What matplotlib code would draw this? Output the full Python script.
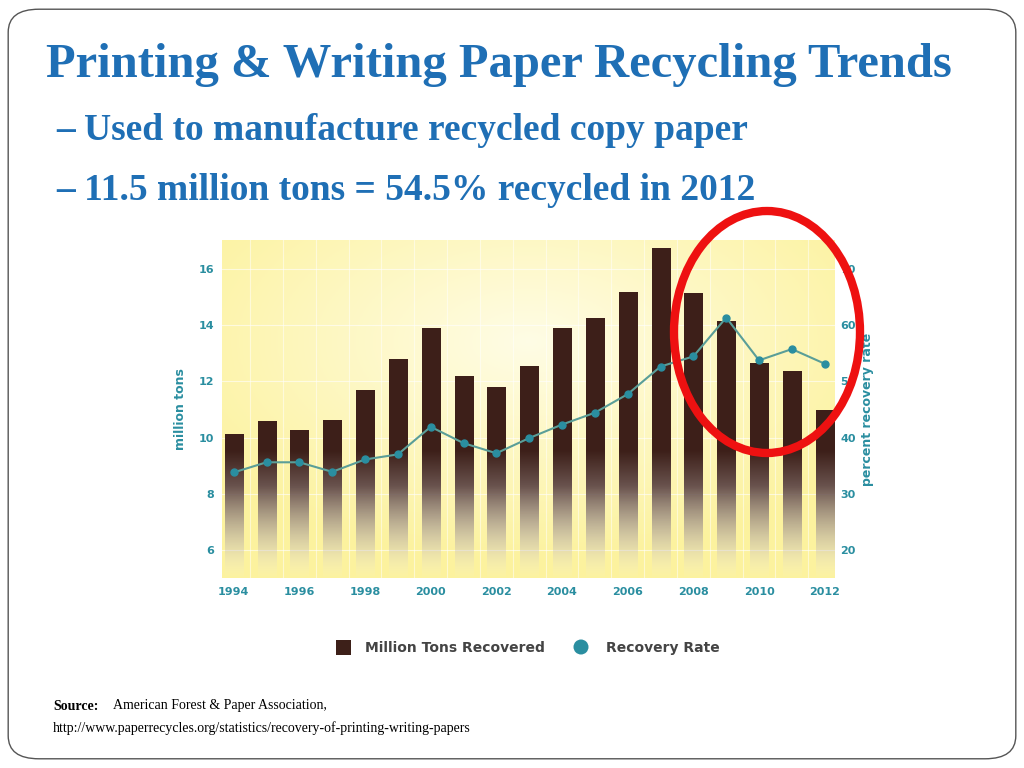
import matplotlib
matplotlib.use("Agg")
import matplotlib.pyplot as plt
import numpy as np
from matplotlib.patches import FancyBboxPatch, Ellipse, Rectangle

years = list(range(1994, 2013))
tons = [10.1, 10.55, 10.25, 10.6, 11.65, 12.75, 13.85, 12.15, 11.75, 12.5,
        13.85, 14.2, 15.15, 16.7, 15.1, 14.1, 12.6, 12.35, 10.95]
rate = [33.8, 35.6, 35.6, 33.9, 36.1, 37.0, 41.9, 39.0, 37.2, 39.9,
        42.3, 44.4, 47.7, 52.6, 54.4, 61.3, 53.7, 55.7, 53.1]
left_ticks = [6, 8, 10, 12, 14, 16]
right_ticks = [20, 30, 40, 50, 60, 70]
xtick_years = list(range(1994, 2013, 2))

blue = "#1f6fb5"
teal = "#2a8ea0"
brown = "#3d2019"

fig = plt.figure(figsize=(10.24, 7.68), dpi=100)
fig.patches.append(FancyBboxPatch((0.008, 0.012), 0.984, 0.976, boxstyle="round,pad=0,rounding_size=0.03",
                                  transform=fig.transFigure, fill=False, ec="#555555", lw=1))
serif = "Liberation Serif"
fig.text(0.045, 0.915, "Printing & Writing Paper Recycling Trends", fontsize=35, color=blue,
         family=serif, weight="bold", va="center")
fig.text(0.055, 0.83, "\u2013 Used to manufacture recycled copy paper", fontsize=27, color=blue,
         family=serif, weight="bold", va="center")
fig.text(0.055, 0.752, "\u2013 11.5 million tons = 54.5% recycled in 2012", fontsize=27, color=blue,
         family=serif, weight="bold", va="center")

ax = fig.add_axes([0.217, 0.247, 0.598, 0.44])
ax.set_xlim(1994 - 0.35, 2012 + 0.3)
ax.set_ylim(5, 17)
gx, gy = np.meshgrid(np.linspace(-1, 1, 200), np.linspace(-1, 1, 200))
r = np.clip(np.sqrt(gx**2 + (gy - 0.4)**2) / 1.3, 0, 1)
c0 = np.array([1.0, 0.99, 0.90]); c1 = np.array([0.99, 0.95, 0.62])
img = c0 + (c1 - c0) * r[..., None]
ax.imshow(img, extent=[1993.65, 2012.3, 5, 17], aspect="auto", origin="lower", zorder=0)
for yv in [6, 8, 10, 12, 14, 16]:
    ax.axhline(yv, color="white", lw=0.8, alpha=0.6, zorder=0.5)
for yr in years:
    ax.axvline(yr + 0.5, color="white", lw=0.8, alpha=0.5, zorder=0.5)

w = 0.55
for yr, t in zip(years, tons):
    frac = np.clip((np.linspace(5, t, 256) - 5) / 4.5, 0, 1) ** 0.8
    frac = frac[:, None, None]
    col = np.ones((256, 1, 3)) * (1 - frac) + np.array([0.24, 0.125, 0.10]) * frac
    rgba = np.concatenate([col, np.clip(frac * 1.3, 0, 1)], axis=2)
    ax.imshow(rgba, extent=[yr - w / 2, yr + w / 2, 5, t], aspect="auto", origin="lower", zorder=2)
ax.bar(years, tons, width=w, color="none", zorder=1)

ax2 = ax.twinx()
ax2.set_ylim(15, 75)
ax2.plot(years, rate, color="#5a9e98", lw=1.5, marker="o", ms=5, mfc=teal, mec=teal, zorder=3)

for a in (ax, ax2):
    for s in a.spines.values():
        s.set_visible(False)
ax.set_yticks(left_ticks)
ax.set_xticks(xtick_years)
ax2.set_yticks(right_ticks)
ax.tick_params(length=0, labelsize=8, labelcolor=teal, pad=6)
ax2.tick_params(length=0, labelsize=8, labelcolor=teal, pad=4)
for lbl in ax.get_xticklabels() + ax.get_yticklabels() + ax2.get_yticklabels():
    lbl.set_fontweight("bold")
ax.set_ylabel("million tons", color=teal, fontsize=9, weight="bold", labelpad=8)
ax2.set_ylabel("percent recovery rate", color=teal, fontsize=9, weight="bold", labelpad=4)
ax.set_xlim(1994 - 0.35, 2012 + 0.3)

fig.patches.append(Ellipse((767 / 1024, 1 - 332 / 768), 186 / 1024, 242 / 768, transform=fig.transFigure,
                           fill=False, ec="#ee1111", lw=6, zorder=10))

fig.patches.append(Rectangle((336 / 1024, 1 - 655 / 768), 15 / 1024, 15 / 768, transform=fig.transFigure,
                             fc=brown, ec="none"))
fig.text(365 / 1024, 1 - 648 / 768, "Million Tons Recovered", fontsize=10, weight="bold", color="#444444", va="center")
fig.patches.append(Ellipse((581 / 1024, 1 - 647 / 768), 15 / 1024, 15 / 768, transform=fig.transFigure,
                           fc=teal, ec="none"))
fig.text(606 / 1024, 1 - 648 / 768, "Recovery Rate", fontsize=10, weight="bold", color="#444444", va="center")

fig.text(53 / 1024, 1 - 706 / 768, "Source:", fontsize=10, weight="bold", family=serif, va="center")
fig.text(113 / 1024, 1 - 706 / 768, "American Forest & Paper Association,", fontsize=10, family=serif, va="center")
fig.text(53 / 1024, 1 - 728 / 768, "http://www.paperrecycles.org/statistics/recovery-of-printing-writing-papers",
         fontsize=10, family=serif, va="center")

fig.savefig("out.png", dpi=100)
